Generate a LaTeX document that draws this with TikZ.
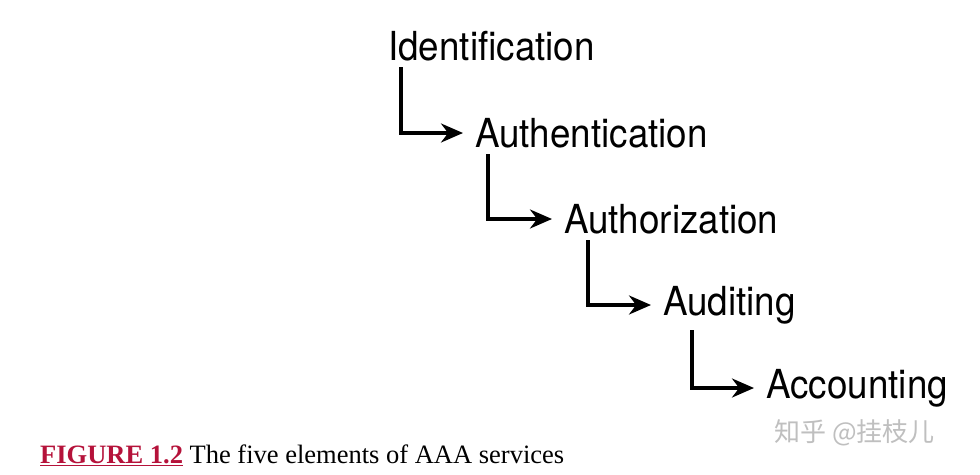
\documentclass[tikz,border=0pt]{standalone}
\usepackage{fontspec}
\setmainfont{Liberation Serif}
\newfontfamily\headfont[FakeStretch=0.92]{TeX Gyre Heros}
\newfontfamily\cjk{Noto Sans CJK SC}
\usetikzlibrary{arrows.meta}
\definecolor{capred}{HTML}{B5123A}
\begin{document}
\begin{tikzpicture}[x=1pt,y=-1pt,
  item/.style={anchor=west,inner sep=0pt,font=\headfont\fontsize{40}{42}\selectfont},
  flow/.style={line width=3.2pt,-{Stealth[length=22pt,width=19pt]}}]
\useasboundingbox (0,0) rectangle (980,474);
\fill[white] (0,0) rectangle (980,474);
\node[item] (i1) at (388,46) {Identification};
\node[item] (i2) at (475,133) {Authentication};
\node[item] (i3) at (564,219) {Authorization};
\node[item] (i4) at (663,305) {Auditing};
\node[item] (i5) at (766,388) {Accounting};
\draw[flow] (i1.south west) ++(13,6) |- ([xshift=-12pt]i2.west);
\draw[flow] (i2.south west) ++(13,6) |- ([xshift=-12pt]i3.west);
\draw[flow] (i3.south west) ++(24,6) |- ([xshift=-12pt]i4.west);
\draw[flow] (i4.south west) ++(29,6) |- ([xshift=-12pt]i5.west);
\node[anchor=west,inner sep=0pt,font=\fontsize{26.5}{28}\selectfont] (cap) at (40,455)
  {\textcolor{capred}{\textbf{\underline{FIGURE 1.2}}} The five elements of AAA services};
\node[anchor=west,inner sep=0pt,text=black!25,font=\cjk\fontsize{26}{28}\selectfont] (wm) at (774,433) {知乎 @挂枝儿};
\end{tikzpicture}
\end{document}
